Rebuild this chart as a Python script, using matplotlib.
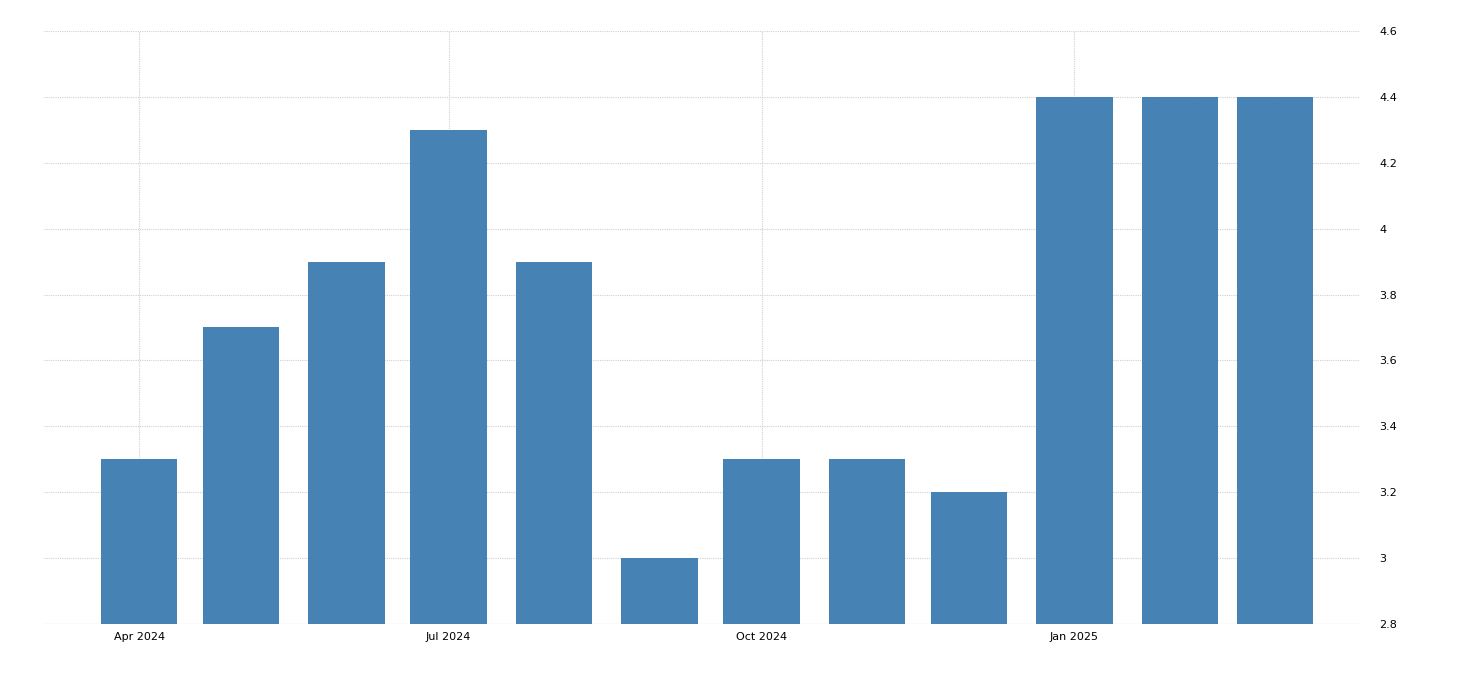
import matplotlib
matplotlib.use("Agg")
import matplotlib.pyplot as plt
import matplotlib.dates as mdates
import numpy as np
import datetime as dt

months = ["2024-04","2024-05","2024-06","2024-07","2024-08","2024-09",
          "2024-10","2024-11","2024-12","2025-01","2025-02","2025-03"]
values = [3.3, 3.7, 3.9, 4.3, 3.9, 3.0, 3.3, 3.3, 3.2, 4.4, 4.4, 4.4]
tick_months = ["2024-04","2024-07","2024-10","2025-01"]
tick_labels = ["Apr 2024","Jul 2024","Oct 2024","Jan 2025"]
yticks = [2.8, 3, 3.2, 3.4, 3.6, 3.8, 4, 4.2, 4.4, 4.6]
ylabels = ["2.8","3","3.2","3.4","3.6","3.8","4","4.2","4.4","4.6"]

def d(s):
    y, m = s.split("-")
    return dt.date(int(y), int(m), 1)

fig = plt.figure(figsize=(14.6, 6.8), dpi=100)
ax = fig.add_axes([44/1460, 56/680, (1360-44)/1460, (624-31)/680])
x = [mdates.date2num(d(m)) for m in months]
ax.bar(x, [v - 2.8 for v in values], bottom=2.8, width=22.5, color="#4682b4", zorder=3)
ax.set_ylim(2.8, 4.6)
ax.set_xlim(mdates.date2num(dt.date(2024, 3, 4)), mdates.date2num(dt.date(2025, 3, 26)))
ax.set_xticks([mdates.date2num(d(m)) for m in tick_months])
ax.set_xticklabels(tick_labels, fontsize=8)
ax.yaxis.tick_right()
ax.set_yticks(yticks)
ax.set_yticklabels(ylabels, fontsize=8)
ax.tick_params(length=0, pad=6)
ax.tick_params(axis="y", pad=14)
ax.grid(True, color="#d0d0d0", linestyle=(0, (1, 1)), linewidth=0.8, zorder=0)
for s in ax.spines.values():
    s.set_visible(False)
ax.axhline(2.8, color="#cccccc", linewidth=0.8, zorder=2)
fig.savefig("out.png", dpi=100)
